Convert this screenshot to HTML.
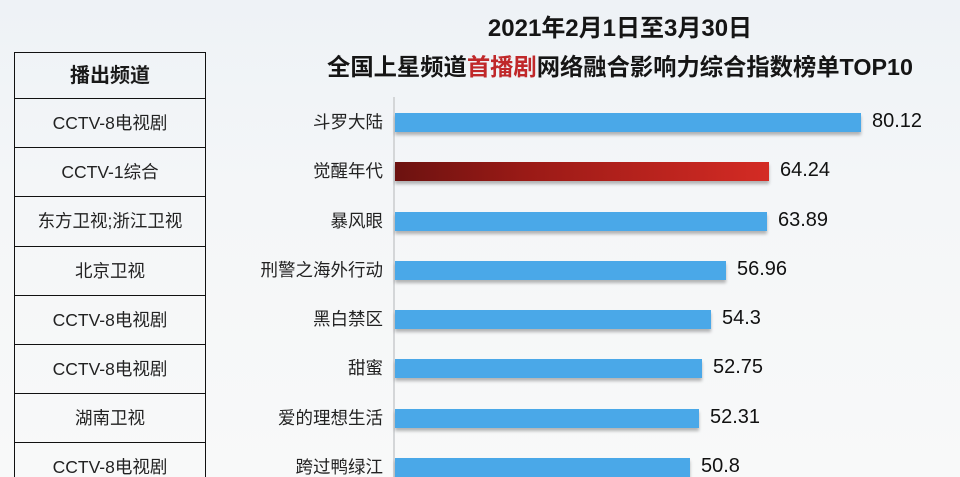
<!DOCTYPE html>
<html><head><meta charset="utf-8">
<style>
html,body{margin:0;padding:0;width:960px;height:477px;overflow:hidden;}
#c{position:relative;width:960px;height:477px;overflow:hidden;
background:linear-gradient(180deg,#eef2f6 0%,#f4f6f8 40%,#f8f9f9 100%);
font-family:"Liberation Sans","Noto Sans CJK SC",sans-serif;color:#1a1a1a;}
.t{position:absolute;left:320px;width:600px;text-align:center;font-weight:bold;color:#151515;white-space:nowrap;}
.tbl{position:absolute;left:14px;top:52px;width:190px;height:430px;border:1.5px solid #111;border-bottom:none;}
.row{position:absolute;left:0;width:190px;border-top:1.5px solid #111;text-align:center;font-size:17.5px;color:#222;}
.cat{position:absolute;right:577px;font-size:17.5px;color:#222;white-space:nowrap;text-align:right;}
.bar{position:absolute;left:395px;height:19px;background:#4aa8e8;box-shadow:0 3px 3px rgba(0,0,0,0.28);}
.val{position:absolute;font-size:20px;color:#111;font-family:"Liberation Sans",sans-serif;}
</style></head><body><div id="c">
<div class="t" style="top:8px;font-size:24px;">2021年2月1日至3月30日</div>
<div class="t" style="top:48px;font-size:23.3px;">全国上星频道<span style="color:#c0282a">首播剧</span>网络融合影响力综合指数榜单TOP10</div>

<div class="tbl">
  <div style="position:absolute;left:0;top:0;width:190px;height:46px;line-height:46px;text-align:center;font-weight:bold;font-size:20px;color:#1a1a1a;">播出频道</div>
  <div class="row" style="top:45px;height:49px;line-height:49px;">CCTV-8电视剧</div>
  <div class="row" style="top:94px;height:49px;line-height:49px;">CCTV-1综合</div>
  <div class="row" style="top:143px;height:49px;line-height:49px;">东方卫视;浙江卫视</div>
  <div class="row" style="top:193px;height:49px;line-height:49px;">北京卫视</div>
  <div class="row" style="top:242px;height:49px;line-height:49px;">CCTV-8电视剧</div>
  <div class="row" style="top:291px;height:49px;line-height:49px;">CCTV-8电视剧</div>
  <div class="row" style="top:340px;height:49px;line-height:49px;">湖南卫视</div>
  <div class="row" style="top:389px;height:49px;line-height:49px;">CCTV-8电视剧</div>
</div>

<div style="position:absolute;left:393px;top:97px;width:2px;height:380px;background:#d4d6d8;"></div>

<div class="cat" style="top:109px;">斗罗大陆</div>
<div class="cat" style="top:158px;">觉醒年代</div>
<div class="cat" style="top:208px;">暴风眼</div>
<div class="cat" style="top:257px;">刑警之海外行动</div>
<div class="cat" style="top:306px;">黑白禁区</div>
<div class="cat" style="top:355px;">甜蜜</div>
<div class="cat" style="top:405px;">爱的理想生活</div>
<div class="cat" style="top:454px;">跨过鸭绿江</div>

<div class="bar" style="top:113px;width:466px;"></div>
<div class="bar" style="top:162px;width:374px;background:linear-gradient(90deg,#6c1210 0%,#9a1a16 35%,#d42b24 100%);"></div>
<div class="bar" style="top:212px;width:372px;"></div>
<div class="bar" style="top:261px;width:331px;"></div>
<div class="bar" style="top:310px;width:316px;"></div>
<div class="bar" style="top:359px;width:307px;"></div>
<div class="bar" style="top:409px;width:304px;"></div>
<div class="bar" style="top:458px;width:295px;"></div>

<div class="val" style="left:872px;top:110px;">80.12</div>
<div class="val" style="left:780px;top:159px;">64.24</div>
<div class="val" style="left:778px;top:209px;">63.89</div>
<div class="val" style="left:737px;top:258px;">56.96</div>
<div class="val" style="left:722px;top:307px;">54.3</div>
<div class="val" style="left:713px;top:356px;">52.75</div>
<div class="val" style="left:710px;top:406px;">52.31</div>
<div class="val" style="left:701px;top:455px;">50.8</div>
</div></body></html>
